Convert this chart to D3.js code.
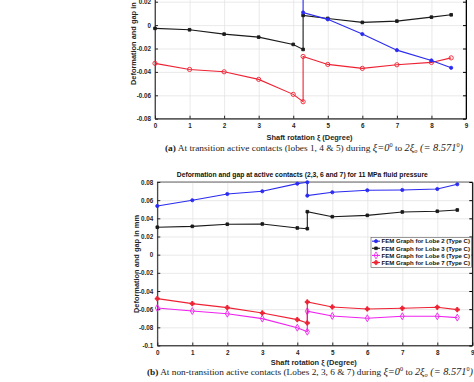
<!DOCTYPE html>
<html><head><meta charset="utf-8">
<script src="https://cdn.jsdelivr.net/npm/d3@7/dist/d3.min.js"></script>
<style>body{margin:0;background:#fff}svg{display:block}</style>
</head><body>
<script>
// ---------- DATA ----------
const xTicks = [0,1,2,3,4,5,6,7,8,9];
const topYTicks = [-0.08,-0.06,-0.04,-0.02,0,0.02];
const botYTicks = [-0.1,-0.08,-0.06,-0.04,-0.02,0,0.02,0.04,0.06,0.08];

const xFull  = [0,1,2,3,4,4.286,4.286,5,6,7,8,8.571];
const xTrans = [4.286,4.286,5,6,7,8,8.571];

// (a) transition contacts
const topBlue  = [0.055,0.0108,0.0049,-0.0077,-0.0214,-0.0302,-0.0365];
const topBlack = [-0.0028,-0.004,-0.0077,-0.0103,-0.0165,-0.0208,0.0083,0.0057,0.0023,0.0034,0.0068,0.0088];
const topRed   = [-0.0327,-0.0379,-0.0399,-0.0464,-0.0592,-0.0655,-0.0268,-0.0336,-0.037,-0.0339,-0.0319,-0.028];

// (b) non-transition contacts
const lobe2 = [0.0536,0.0599,0.0668,0.0698,0.0782,0.0797,0.065,0.0687,0.0709,0.0712,0.0723,0.0775];
const lobe3 = [0.0302,0.0312,0.0335,0.0338,0.0294,0.0286,0.0473,0.0418,0.0433,0.047,0.0478,0.0492];
const lobe6 = [-0.0587,-0.062,-0.065,-0.0704,-0.0804,-0.0848,-0.0623,-0.0675,-0.07,-0.0678,-0.0678,-0.0693];
const lobe7 = [-0.0484,-0.0539,-0.0583,-0.0642,-0.0715,-0.0752,-0.0521,-0.0576,-0.0598,-0.059,-0.0579,-0.0605];
const legendLabels = ["FEM Graph for Lobe 2 (Type C)","FEM Graph for Lobe 3 (Type C)","FEM Graph for Lobe 6 (Type C)","FEM Graph for Lobe 7 (Type C)"];

const titleB = "Deformation and gap at active contacts (2,3, 6 and 7) for 11 MPa fluid pressure";
const xLabel = "Shaft rotation \u03BE (Degree)";
const yLabel = "Deformation and gap in mm";

// ---------- DRAW ----------
const W = 474, H = 382;
const svg = d3.select("body").append("svg").attr("width", W).attr("height", H);
svg.append("rect").attr("width", W).attr("height", H).attr("fill", "#fff");
const AX = "#262626", GRID = "#e3e3e3";
const FONT = "'Liberation Sans', Arial, sans-serif";
const fmt = d => d === 0 ? "0" : String(+d.toFixed(2));

const symSquare = d3.symbol().type(d3.symbolSquare).size(7);
const symCircle = d3.symbol().type(d3.symbolCircle).size(14);
const symDiamond = d3.symbol().type(d3.symbolDiamond).size(14);
const symStar = d3.symbol().type(d3.symbolCross).size(10);
const symDot = d3.symbol().type(d3.symbolCircle).size(8);

function panel(cfg) {
  const g = svg.append("g");
  const x = d3.scaleLinear().domain([0, 9]).range([cfg.x0, cfg.x1]);
  const y = d3.scaleLinear().domain(cfg.yDom).range([cfg.yb, cfg.yt]);
  // grid
  g.append("g").attr("transform", `translate(0,${cfg.yb})`)
    .call(d3.axisBottom(x).tickValues(xTicks).tickSize(-(cfg.yb - cfg.yt)).tickFormat(""))
    .call(a => a.select(".domain").remove())
    .call(a => a.selectAll("line").attr("stroke", GRID).attr("stroke-width", 0.8));
  g.append("g").attr("transform", `translate(${cfg.x0},0)`)
    .call(d3.axisLeft(y).tickValues(cfg.yTicks).tickSize(-(cfg.x1 - cfg.x0)).tickFormat(""))
    .call(a => a.select(".domain").remove())
    .call(a => a.selectAll("line").attr("stroke", GRID).attr("stroke-width", 0.8));
  // box
  g.append("rect").attr("x", cfg.x0).attr("y", cfg.yt).attr("width", cfg.x1 - cfg.x0).attr("height", cfg.yb - cfg.yt)
    .attr("fill", "none").attr("stroke", AX).attr("stroke-width", 0.7);
  // axes
  const ax = g.append("g").attr("transform", `translate(0,${cfg.yb})`)
    .call(d3.axisBottom(x).tickValues(xTicks).tickSizeInner(-3).tickSizeOuter(0).tickPadding(5).tickFormat(d3.format("d")));
  const ay = g.append("g").attr("transform", `translate(${cfg.x0},0)`)
    .call(d3.axisLeft(y).tickValues(cfg.yTicks).tickSizeInner(-3).tickSizeOuter(0).tickPadding(4).tickFormat(fmt));
  g.append("g").attr("transform", `translate(${cfg.x1},0)`)
    .call(d3.axisRight(y).tickValues(cfg.yTicks).tickSizeInner(-3).tickSizeOuter(0).tickFormat(""));
  [ax, ay].forEach(a => {
    a.select(".domain").attr("stroke", AX).attr("stroke-width", 0.7);
    a.selectAll("line").attr("stroke", AX);
    a.selectAll("text").attr("fill", AX).attr("font-family", FONT).attr("font-weight", "bold").attr("font-size", 6.3);
  });
  // labels
  g.append("text").attr("x", (cfg.x0 + cfg.x1) / 2 - 1).attr("y", cfg.xlabY).attr("text-anchor", "middle")
    .attr("font-family", FONT).attr("font-weight", "bold").attr("font-size", 7.4).attr("fill", AX)
    .attr("textLength", 86).attr("lengthAdjust", "spacingAndGlyphs").text(xLabel);
  g.append("text").attr("transform", `translate(${cfg.ylabX},${cfg.ylabMid}) rotate(-90)`).attr("text-anchor", "middle")
    .attr("font-family", FONT).attr("font-weight", "bold").attr("font-size", 7.4).attr("fill", AX)
    .attr("textLength", 98).attr("lengthAdjust", "spacingAndGlyphs").text(yLabel);
  // series
  cfg.series.forEach(s => {
    const pts = s.xs.map((d, i) => [x(d), y(s.ys[i])]);
    g.append("path").attr("d", d3.line()(pts)).attr("fill", "none").attr("stroke", s.color).attr("stroke-width", 1.1);
    g.selectAll(null).data(pts).join("path")
      .attr("transform", d => `translate(${d[0]},${d[1]})`)
      .attr("d", s.sym()).attr("fill", s.fill ? s.color : "none").attr("stroke", s.color).attr("stroke-width", 0.9);
  });
  return {g, x, y};
}

// Top panel (a)
panel({
  x0: 155, x1: 466, yb: 118.7, yt: 118.7 - 7 * 23.4, yDom: [-0.08, 0.06], yTicks: topYTicks,
  xlabY: 139.5, ylabX: 135.5, ylabMid: 36,
  series: [
    {xs: xFull, ys: topBlack, color: "#1a1a1a", sym: symSquare, fill: true},
    {xs: xFull, ys: topRed, color: "#ee2233", sym: symCircle, fill: false},
    {xs: xTrans, ys: topBlue, color: "#2a2af0", sym: symDot, fill: true}
  ]
});

// Bottom panel (b)
panel({
  x0: 157.3, x1: 472.3, yb: 345.5, yt: 182, yDom: [-0.1, 0.08], yTicks: botYTicks,
  xlabY: 365, ylabX: 138.5, ylabMid: 264,
  series: [
    {xs: xFull, ys: lobe2, color: "#2a2af0", sym: symDot, fill: true},
    {xs: xFull, ys: lobe3, color: "#1a1a1a", sym: symSquare, fill: true},
    {xs: xFull, ys: lobe6, color: "#ee22ee", sym: symDiamond, fill: false},
    {xs: xFull, ys: lobe7, color: "#ee2233", sym: symStar, fill: true}
  ]
});

// title (b)
svg.append("text").attr("x", 302.3).attr("y", 177.2).attr("text-anchor", "middle")
  .attr("font-family", FONT).attr("font-weight", "bold").attr("font-size", 7.4).attr("fill", "#111")
  .attr("textLength", 251).attr("lengthAdjust", "spacingAndGlyphs").text(titleB);

// legend
const legColors = ["#2a2af0", "#1a1a1a", "#ee22ee", "#ee2233"];
const legSyms = [symDot, symSquare, symDiamond, symStar];
const leg = svg.append("g");
leg.append("rect").attr("x", 371).attr("y", 237.3).attr("width", 100.5).attr("height", 30)
  .attr("fill", "#fff").attr("stroke", "#555").attr("stroke-width", 0.6);
legendLabels.forEach((t, i) => {
  const yy = 241.2 + i * 7.1;
  leg.append("line").attr("x1", 372).attr("x2", 380).attr("y1", yy).attr("y2", yy)
    .attr("stroke", legColors[i]).attr("stroke-width", 1.1);
  leg.append("path").attr("transform", `translate(376,${yy})`).attr("d", legSyms[i]())
    .attr("fill", i === 2 ? "none" : legColors[i]).attr("stroke", legColors[i]).attr("stroke-width", 0.8);
  leg.append("text").attr("x", 381.5).attr("y", yy + 2.2).attr("font-family", FONT).attr("font-weight", "bold")
    .attr("font-size", 6.2).attr("fill", "#111").attr("textLength", 88.5).attr("lengthAdjust", "spacingAndGlyphs").text(t);
});

// captions
function caption(label, body, xs, ybase, len) {
  const t = svg.append("text").attr("x", xs).attr("y", ybase)
    .attr("font-family", "'Liberation Serif', 'Times New Roman', serif").attr("font-size", 9).attr("fill", "#222")
    .attr("textLength", len).attr("lengthAdjust", "spacingAndGlyphs");
  t.append("tspan").attr("font-weight", "bold").text(label);
  t.append("tspan").text(body);
  t.append("tspan").attr("font-style", "italic").attr("font-size", 10).text("\u03BE=0");
  t.append("tspan").attr("font-size", 6).attr("dy", -4).text("0");
  t.append("tspan").attr("dy", 4).text(" to  ");
  t.append("tspan").attr("font-style", "italic").attr("font-size", 10).text("2\u03BE");
  t.append("tspan").attr("font-style", "italic").attr("font-size", 6).attr("dy", 2).text("o");
  t.append("tspan").attr("dy", -2).attr("font-style", "italic").attr("font-size", 10).text(" (= 8.571");
  t.append("tspan").attr("font-size", 6).attr("dy", -4).text("0");
  t.append("tspan").attr("dy", 4).attr("font-style", "italic").attr("font-size", 10).text(")");
}
caption("(a)", " At transition active contacts (lobes 1, 4 & 5) during ", 165, 150.5, 298);
caption("(b)", " At non-transition active contacts (Lobes 2, 3, 6 & 7) during ", 147, 375, 326);
</script>
</body></html>
